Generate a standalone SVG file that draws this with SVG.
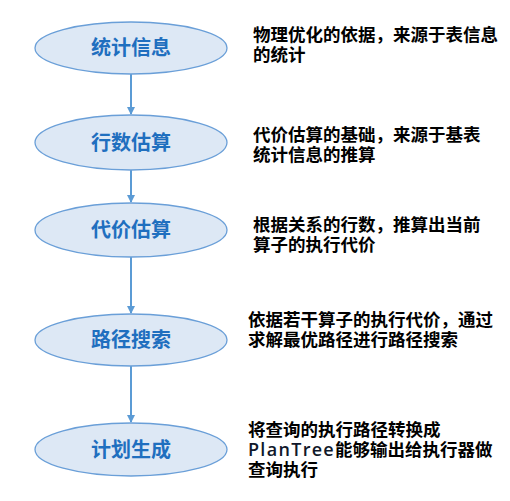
<svg xmlns="http://www.w3.org/2000/svg" width="510" height="501" viewBox="0 0 510 501">
<style>
.node ellipse{fill:#dde8f5;stroke:#6a9fd8;stroke-width:1.3}
.lbl{font-family:"Noto Sans CJK SC","Liberation Sans",sans-serif;font-weight:bold;font-size:20px;fill:#1f6fbf;text-anchor:middle}
.desc{font-family:"Noto Sans CJK SC","Liberation Sans",sans-serif;font-weight:bold;font-size:17.5px;fill:#000}
.lat{font-family:"Open Sans","Liberation Sans",sans-serif;font-weight:600;font-size:18px;letter-spacing:1.3px;fill:#10182a}
.conn line{stroke:#5b9bd5;stroke-width:2}
</style>
<defs>
<marker id="ah" markerWidth="8" markerHeight="8" refX="7" refY="4" orient="auto" markerUnits="userSpaceOnUse">
<path d="M0,0 L8,4 L0,8 Z" fill="#5b9bd5"/>
</marker>
</defs>
<rect width="510" height="501" fill="#fff"/>
<g id="connectors" class="conn">
<line x1="131" y1="74" x2="131" y2="114" marker-end="url(#ah)"/>
<line x1="131" y1="170" x2="131" y2="202" marker-end="url(#ah)"/>
<line x1="131" y1="257" x2="131" y2="313" marker-end="url(#ah)"/>
<line x1="131" y1="366" x2="131" y2="422" marker-end="url(#ah)"/>
</g>
<g id="n1" class="node"><ellipse cx="131" cy="48" rx="96" ry="26"/><text class="lbl" x="131" y="55">统计信息</text></g>
<g id="n2" class="node"><ellipse cx="131" cy="142.5" rx="96" ry="27.5"/><text class="lbl" x="131" y="150">行数估算</text></g>
<g id="n3" class="node"><ellipse cx="131" cy="230" rx="96" ry="27"/><text class="lbl" x="131" y="237">代价估算</text></g>
<g id="n4" class="node"><ellipse cx="131" cy="340" rx="96" ry="26"/><text class="lbl" x="131" y="347">路径搜索</text></g>
<g id="n5" class="node"><ellipse cx="131" cy="449.5" rx="96" ry="26.5"/><text class="lbl" x="131" y="457">计划生成</text></g>
<g id="d1"><text class="desc" x="253" y="41">物理优化的依据，来源于表信息</text><text class="desc" x="253" y="61">的统计</text></g>
<g id="d2"><text class="desc" x="253" y="141">代价估算的基础，来源于基表</text><text class="desc" x="253" y="161">统计信息的推算</text></g>
<g id="d3"><text class="desc" x="253" y="231">根据关系的行数，推算出当前</text><text class="desc" x="253" y="251">算子的执行代价</text></g>
<g id="d4"><text class="desc" x="248" y="326">依据若干算子的执行代价，通过</text><text class="desc" x="248" y="346">求解最优路径进行路径搜索</text></g>
<g id="d5"><text class="desc" x="248" y="436">将查询的执行路径转换成</text><text class="desc" x="248" y="456"><tspan class="lat">PlanTree</tspan>能够输出给执行器做</text><text class="desc" x="248" y="476">查询执行</text></g>
</svg>
